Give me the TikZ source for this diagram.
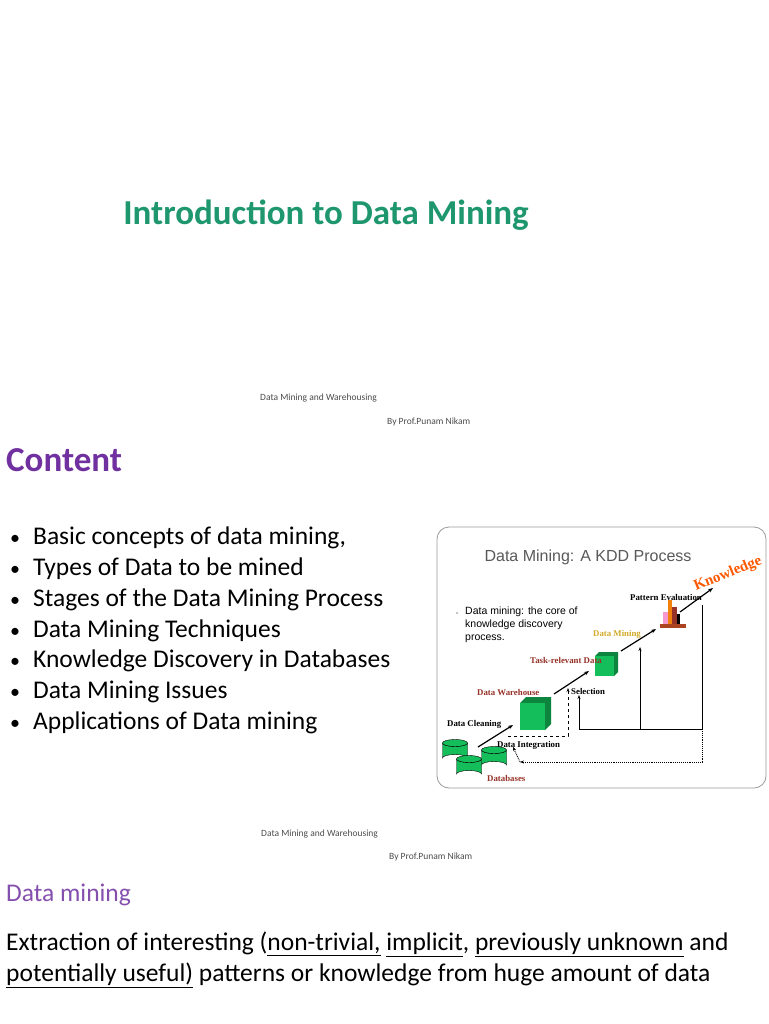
\documentclass[tikz,border=0pt]{standalone}
\usepackage{fontspec}
\setmainfont{Carlito}
\newfontfamily\arialf{Liberation Sans}
\newfontfamily\timesf{Liberation Serif}
\usetikzlibrary{shapes.geometric,arrows.meta}
\definecolor{titlegreen}{RGB}{30,150,110}
\definecolor{cpurple}{RGB}{112,48,160}
\definecolor{dred}{RGB}{150,50,40}
\definecolor{dyel}{RGB}{210,170,40}
\definecolor{cubeg}{RGB}{20,190,90}
\begin{document}
\begin{tikzpicture}[x=1pt,y=-1pt,
  foot/.style={font=\fontsize{9.5}{10}\selectfont,text=black!70,anchor=west,inner sep=0},
  bul/.style={font=\fontsize{25.5}{28}\selectfont,anchor=west,inner sep=0},
  lbl/.style={font=\timesf\bfseries\fontsize{8.8}{9}\selectfont,inner sep=0},
  arr/.style={-{Stealth[length=5pt]},line width=1.2pt},
  thin/.style={line width=0.9pt}]
\useasboundingbox (0,0) rectangle (768,1024);
\fill[white] (0,0) rectangle (768,1024);
\node[font=\bfseries\fontsize{35}{38}\selectfont,text=titlegreen] (title) at (326,215) {Introduction to Data Mining};
\node[foot] (f1) at (260,398) {Data Mining and Warehousing};
\node[foot] (f2) at (387,422) {By Prof.Punam Nikam};
\node[font=\bfseries\fontsize{35}{38}\selectfont,text=cpurple,anchor=west,inner sep=0] (content) at (6,460) {Content};
\foreach \t [count=\i] in {{Basic concepts of data mining,},Types of Data to be mined,Stages of the Data Mining Process,Data Mining Techniques,Knowledge Discovery in Databases,Data Mining Issues,Applications of Data mining}{
  \node[bul] (b\i) at (10,{538+30.8*(\i-1)}) {{\fontsize{20}{20}\selectfont\textbullet}\hspace{13pt}\t};
}
% KDD figure
\draw[black!40,rounded corners=12pt,line width=0.8pt] (437,527) rectangle (766,788);
\node[font=\arialf\fontsize{16}{18}\selectfont,text=black!65] (kt) at (588,557) {Data Mining: A KDD Process};
\node[font=\arialf\fontsize{10.5}{13}\selectfont,anchor=north west,align=left,inner sep=0] (kb) at (465,607) {Data mining: the core of\\knowledge discovery\\process.};
\node[circle,fill=black!30,inner sep=0.8pt] (kbd) at (457,613) {};
\foreach \n/\cx/\cy in {db1/455/743, db3/494/750, db2/469/759}{
  \fill[cubeg,draw=black,line width=0.4pt] (\cx-12.5,\cy) -- (\cx-12.5,\cy+15) arc[start angle=180,end angle=360,x radius=12.5,y radius=3.5] -- (\cx+12.5,\cy) arc[start angle=0,end angle=-180,x radius=12.5,y radius=-3.5] -- cycle;
  \draw[fill=cubeg,line width=0.4pt] (\cx,\cy) ellipse[x radius=12.5,y radius=3.5];
  \node[inner sep=0] (\n) at (\cx,\cy+8) {};
}
\node[lbl,text=dred,anchor=west] (dbl) at (487,778) {Databases};
% cubes
\fill[cubeg!70!black] (520,703) -- (526,697) -- (551,697) -- (551,724) -- (545,730) -- cycle;
\fill[cubeg] (520,703) rectangle (545,730);
\node[inner sep=0,minimum size=1pt] (dw) at (535,713) {};
\fill[cubeg!70!black] (595,656) -- (599,652) -- (618,652) -- (618,672) -- (614,676) -- cycle;
\fill[cubeg] (595,656) rectangle (614,676);
\node[inner sep=0] (tr) at (606,664) {};
% bar chart
\fill[dred!80!orange] (660,624) rectangle (686,628);
\fill[magenta!40] (663,612) rectangle (668,624);
\fill[orange!80!brown] (668,600) rectangle (672,624);
\fill[dred] (672,607) rectangle (677,624);
\fill[black] (677,614) rectangle (680,624);
\node[font=\timesf\bfseries\fontsize{15}{15}\selectfont,text=orange!70!red,rotate=22,inner sep=0] (kn) at (728,574) {Knowledge};
% labels
\node[lbl,text=black,anchor=west] (dc) at (447,724) {Data Cleaning};
\node[lbl,text=black,anchor=west] (di) at (497,745) {Data Integration};
\node[lbl,text=dred,anchor=west] (dwl) at (477,693) {Data Warehouse};
\node[lbl,text=black,anchor=west] (sel) at (571,691) {Selection};
\node[lbl,text=dred,anchor=west] (trl) at (530,660) {Task-relevant Data};
\node[lbl,text=dyel,anchor=west] (dml) at (593,634) {Data Mining};
\node[lbl,text=black,anchor=west] (pel) at (630,597) {Pattern Evaluation};
% arrows
\coordinate (a1) at (478,747); \coordinate (a2) at (513,725);
\coordinate (a3) at (554,694); \coordinate (a4) at (589,671);
\coordinate (a5) at (621,651); \coordinate (a6) at (656,629);
\coordinate (a7) at (680,612); \coordinate (a8) at (713,588);
\draw[arr] (a1) -- (a2); \draw[arr] (a3) -- (a4);
\draw[arr] (a5) -- (a6); \draw[arr] (a7) -- (a8);
\coordinate (p1) at (702,605); \coordinate (p2) at (702,729);
\coordinate (p3) at (579,729); \coordinate (p4) at (579,695);
\coordinate (p5) at (640,729); \coordinate (p6) at (640,647);
\draw[thin,-{Stealth[length=4pt]}] (p1) -- (p2) -- (p3) -- (p4);
\draw[thin,-{Stealth[length=4pt]}] (p5) -- (p6);
\coordinate (d1) at (508,736); \coordinate (d2) at (568,736); \coordinate (d3) at (568,688);
\draw[thin,dashed,-{Stealth[length=4pt]}] (d1) -- (d2) -- (d3);
\coordinate (e1) at (702,762); \coordinate (e2) at (520,762); \coordinate (e3) at (513,747);
\draw[thin,densely dotted,-{Stealth[length=4pt]}] (p2) -- (e1) -- (e2);
\draw[thin,densely dotted,-{Stealth[length=4pt]}] (e2) -- (e3);
% lower part
\node[foot] (f3) at (261,834) {Data Mining and Warehousing};
\node[foot] (f4) at (389,857) {By Prof.Punam Nikam};
\node[font=\fontsize{25.5}{28}\selectfont,text=cpurple!85,anchor=west,inner sep=0] (dm) at (6,895) {Data mining};
\node[font=\fontsize{25.5}{31}\selectfont,anchor=north west,align=left,inner sep=0] (par) at (6,932) {Extraction of interesting (\underline{non-trivial,} \underline{implicit}, \underline{previously unknown} and\\\underline{potentially useful)} patterns or knowledge from huge amount of data};
\end{tikzpicture}
\end{document}
